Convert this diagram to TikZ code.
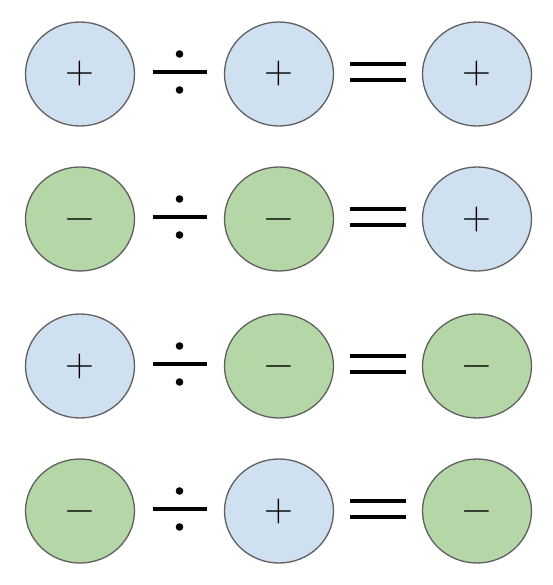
\documentclass[tikz,border=0pt]{standalone}
\usepackage{tikz}
\usetikzlibrary{shapes.geometric, calc}
\definecolor{myblue}{RGB}{207, 224, 241}
\definecolor{mygreen}{RGB}{181, 215, 168}
\definecolor{myrim}{RGB}{95, 95, 95}

\tikzset{
    ball/.style={ellipse, draw=myrim, line width=1.3pt, minimum width=109pt, minimum height=104pt, inner sep=0pt, text height=23.3pt, text depth=3.3pt, font=\fontsize{40}{40}\selectfont},
    ballp/.style={ball, fill=myblue},
    ballm/.style={ball, fill=mygreen},
    opline/.style={line width=3.6pt}
}

\begin{document}
\begin{tikzpicture}[x=1pt, y=-1pt]
    \useasboundingbox (0,0) rectangle (552,585);

    % --- Row 1: + / + = + ---
    \node[ballp] (a1) at (80,74) {+};
    \node[ballp] (b1) at (279,74) {+};
    \node[ballp] (c1) at (477,74) {+};

    % --- Row 2: - / - = + ---
    \node[ballm] (a2) at (80,219) {−};
    \node[ballm] (b2) at (279,219) {−};
    \node[ballp] (c2) at (477,219) {+};

    % --- Row 3: + / - = - ---
    \node[ballp] (a3) at (80,366) {+};
    \node[ballm] (b3) at (279,366) {−};
    \node[ballm] (c3) at (477,366) {−};

    % --- Row 4: - / + = - ---
    \node[ballm] (a4) at (80,511) {−};
    \node[ballp] (b4) at (279,511) {+};
    \node[ballm] (c4) at (477,511) {−};

    % Znaki dzielenia i rownosci miedzy kulami
    \foreach \r in {1,...,4} {
        \coordinate (d\r) at ($(a\r.east)!0.5!(b\r.west)+(0,-2)$);
        \coordinate (e\r) at ($(b\r.east)!0.5!(c\r.west)+(0,-2)$);
        % dzielenie
        \draw[opline] ([xshift=-27pt]d\r) -- ([xshift=27pt]d\r);
        \fill ([yshift=18pt]d\r) circle (3.8pt);
        \fill ([yshift=-18pt]d\r) circle (3.8pt);
        % rownosc
        \draw[opline] ([xshift=-28pt, yshift=8pt]e\r) -- ([xshift=28pt, yshift=8pt]e\r);
        \draw[opline] ([xshift=-28pt, yshift=-8pt]e\r) -- ([xshift=28pt, yshift=-8pt]e\r);
    }
\end{tikzpicture}
\end{document}
